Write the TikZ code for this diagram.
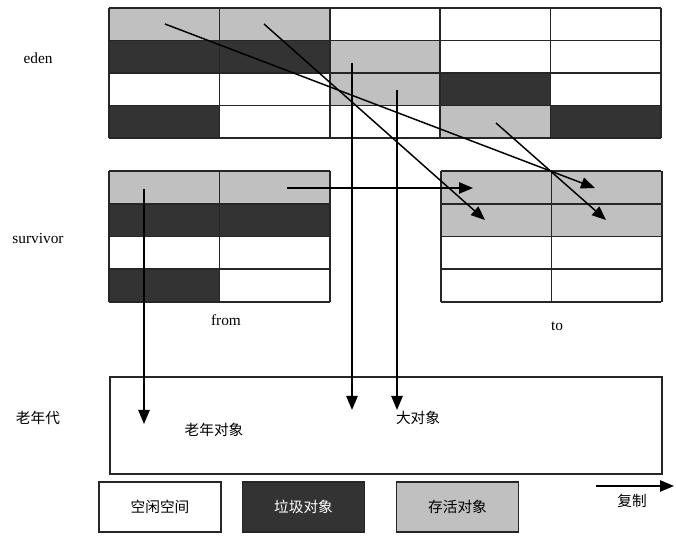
\documentclass[tikz,border=0pt]{standalone}
\usepackage{fontspec}
\setmainfont{Liberation Serif}
\newfontfamily\cjk{Noto Sans CJK SC}
\usetikzlibrary{arrows.meta}
\definecolor{livegray}{HTML}{C0C0C0}
\definecolor{garbage}{HTML}{333333}
\tikzset{
  gridline/.style={draw=black!85, line width=1.3pt},
  mvarrow/.style={line width=1.1pt, -{Triangle[length=10.5pt,width=8.5pt]}},
  lbl/.style={font=\fontsize{11.5pt}{14pt}\selectfont, inner sep=0pt},
  clbl/.style={font=\cjk\fontsize{11pt}{13pt}\selectfont, inner sep=0pt},
  legbox/.style={draw=black!85, line width=1.3pt, minimum width=91.5pt, minimum height=37.5pt, inner sep=0pt, font=\cjk\fontsize{11pt}{13pt}\selectfont},
}
\begin{document}
\begin{tikzpicture}[x=0.75pt,y=-0.75pt]
\useasboundingbox (0,0) rectangle (676,552);
% ---------- eden ----------
\def\ew{110.4}\def\eh{32.5}
\foreach \c/\r/\col in {1/1/livegray,2/1/livegray,3/1/white,4/1/white,5/1/white,
                        1/2/garbage,2/2/garbage,3/2/livegray,4/2/white,5/2/white,
                        1/3/white,2/3/white,3/3/livegray,4/3/garbage,5/3/white,
                        1/4/garbage,2/4/white,3/4/white,4/4/livegray,5/4/garbage}
  \fill[\col] ({109+(\c-1)*\ew},{8+(\r-1)*\eh}) rectangle ++(\ew,\eh);
\foreach \c in {0,...,5} \draw[gridline] ({109+\c*\ew},8) -- ({109+\c*\ew},138);
\foreach \r in {0,...,4} \draw[gridline] (109,{8+\r*\eh}) -- (661,{8+\r*\eh});
% ---------- survivor from ----------
\def\sh{32.75}
\foreach \c/\r/\col in {1/1/livegray,2/1/livegray,1/2/garbage,2/2/garbage,
                        1/3/white,2/3/white,1/4/garbage,2/4/white}
  \fill[\col] ({109+(\c-1)*\ew},{171+(\r-1)*\sh}) rectangle ++(\ew,\sh);
\foreach \c in {0,1,2} \draw[gridline] ({109+\c*\ew},171) -- ({109+\c*\ew},302);
\foreach \r in {0,...,4} \draw[gridline] (109,{171+\r*\sh}) -- (330,{171+\r*\sh});
% ---------- survivor to ----------
\foreach \c/\r/\col in {1/1/livegray,2/1/livegray,1/2/livegray,2/2/livegray,
                        1/3/white,2/3/white,1/4/white,2/4/white}
  \fill[\col] ({441+(\c-1)*\ew},{171+(\r-1)*\sh}) rectangle ++(\ew,\sh);
\foreach \c in {0,1,2} \draw[gridline] ({441+\c*\ew},171) -- ({441+\c*\ew},302);
\foreach \r in {0,...,4} \draw[gridline] (441,{171+\r*\sh}) -- (661,{171+\r*\sh});
% ---------- old generation ----------
\node[draw=black!85, line width=1.3pt, minimum width=414pt, minimum height=72.75pt, inner sep=0pt, anchor=north west] (old) at (109,376) {};
% ---------- labels ----------
\node[lbl] (eden) at (38,58) {eden};
\node[lbl] (surv) at (38,239) {survivor};
\node[lbl] (from) at (226,320) {from};
\node[lbl] (to) at (557,326) {to};
\node[clbl] (oldlbl) at (38,418) {老年代};
\node[clbl] (oldobj) at (214,430) {老年对象};
\node[clbl] (bigobj) at (418,418) {大对象};
% ---------- legend ----------
\node[legbox, fill=white] (free) at (160,507) {空闲空间};
\node[legbox, fill=garbage, text=white] (garb) at (303.5,507) {垃圾对象};
\node[legbox, fill=livegray] (live) at (457.5,507) {存活对象};
\node[clbl] (copy) at (632,501) {复制};
\coordinate (cpS) at (596,486);
\coordinate (cpE) at (674,486);
\draw[mvarrow] (cpS) -- (cpE);
% ---------- arrows ----------
\coordinate (s1) at (165,24);  \coordinate (t1) at (595,188);
\coordinate (s2) at (264,24);  \coordinate (t2) at (485,220);
\coordinate (s3) at (352,63);  \coordinate (t3) at (352,410);
\coordinate (s4) at (397,90);  \coordinate (t4) at (397,410);
\coordinate (s5) at (496,123); \coordinate (t5) at (606,220);
\coordinate (s6) at (287,188); \coordinate (t6) at (473,188);
\coordinate (s7) at (144,189); \coordinate (t7) at (144,424);
\foreach \i in {1,...,7} \draw[mvarrow] (s\i) -- (t\i);
\end{tikzpicture}
\end{document}
